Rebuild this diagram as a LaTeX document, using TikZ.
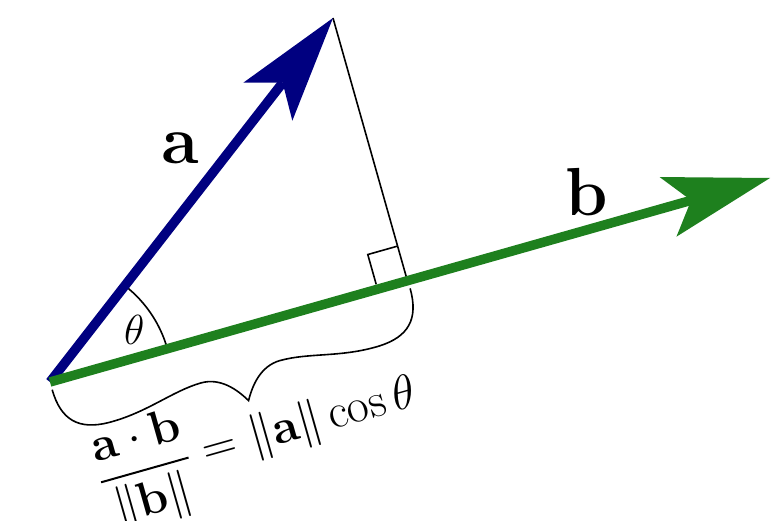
\documentclass[tikz,border=0pt]{standalone}
\usepackage{fix-cm}
\usepackage{amsmath}
\usetikzlibrary{calc}
\definecolor{vecblue}{RGB}{0,0,128}
\definecolor{vecgreen}{RGB}{30,128,30}
\begin{document}
\begin{tikzpicture}[x=0.5pt,y=0.5pt]
    \tikzstyle{every node}+=[inner sep=0pt]
    \tikzset{thinline/.style={black, line width=0.8pt}}
    \useasboundingbox (0,0) rectangle (771,520);
    \coordinate (O) at (50,138);
    \coordinate (A) at (333,502);
    \coordinate (B) at (770,342);
    \coordinate (F) at ($(O)!(A)!(B)$);
    \coordinate (An) at ($(A)!41pt!(O)$);
    \coordinate (Bn) at ($(B)!41pt!(O)$);
    \draw [thinline] (A) -- (F);
    \begin{scope}[shift={(F)}, rotate=15.8]
    \draw [thinline] (0,36) -- (-31,36) -- (-31,5);
    \end{scope}
    \draw [thinline] ($(O)+(15.8:122)$) arc (15.8:52.1:122);
    \node (theta) at ($(O)+(31.7:99)$) {\fontsize{21}{24}\selectfont $\theta$};
    \draw [vecblue, line width=4.75pt] (O) -- (An);
    \fill [vecblue, shift={(A)}, rotate=52.1] (0,0) -- (-106,31) -- (-82,0) -- (-106,-31) -- cycle;
    \draw [vecgreen, line width=4.75pt] (O) -- (Bn);
    \fill [vecgreen, shift={(B)}, rotate=15.8] (0,0) -- (-106,31) -- (-82,0) -- (-106,-31) -- cycle;
    \node (la) at (180,372) {\fontsize{34}{40}\selectfont $\mathbf{a}$};
    \node (lb) at (587,328) {\fontsize{34}{40}\selectfont $\mathbf{b}$};
    \begin{scope}[shift={(O)}, rotate=15.8]
    \draw [thinline] (0,-8) .. controls (0,-40) and (15,-54) .. (45,-55)
        .. controls (85,-56) and (115,-42) .. (145,-42)
        .. controls (165,-42) and (178,-58) .. (186,-72)
        .. controls (194,-58) and (207,-42) .. (227,-42)
        .. controls (257,-42) and (287,-56) .. (327,-55)
        .. controls (357,-54) and (372,-40) .. (372,-8);
    \node [rotate=15.8] (proj) at (184,-112) {\fontsize{24}{28}\selectfont $\dfrac{\mathbf{a}\cdot\mathbf{b}}{\|\mathbf{b}\|}=\|\mathbf{a}\|\cos\theta$};
    \end{scope}
\end{tikzpicture}
\end{document}
